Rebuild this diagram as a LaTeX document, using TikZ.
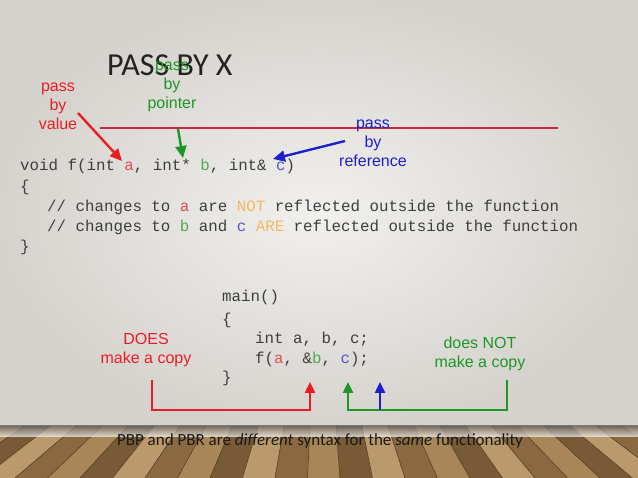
\documentclass[tikz,border=0pt]{standalone}
\usepackage{fontspec}
\setmainfont{Liberation Sans}
\setmonofont{Liberation Mono}
\newfontfamily\slidefont{Carlito}
\usetikzlibrary{arrows.meta}
\definecolor{ink}{RGB}{34,34,34}
\definecolor{code}{RGB}{62,62,62}
\definecolor{wallhi}{RGB}{241,240,238}
\definecolor{walllo}{RGB}{214,211,206}
\definecolor{woodtone0}{RGB}{168,134,88}
\definecolor{woodtone1}{RGB}{138,104,64}
\definecolor{woodtone2}{RGB}{186,154,108}
\definecolor{woodtone3}{RGB}{120,90,54}
\definecolor{plank}{RGB}{78,56,32}
\definecolor{rulecol}{RGB}{196,40,68}
\definecolor{valred}{RGB}{232,30,36}
\definecolor{ptrgreen}{RGB}{30,150,40}
\definecolor{refblue}{RGB}{30,30,205}
\definecolor{vara}{RGB}{222,80,80}
\definecolor{varb}{RGB}{80,170,80}
\definecolor{varc}{RGB}{85,85,205}
\definecolor{caps}{RGB}{244,184,96}

\begin{document}
\begin{tikzpicture}[x=1pt,y=-1pt,
    codeline/.style={anchor=base west, inner sep=0pt, text=code,
      font=\ttfamily\fontsize{15.8}{20}\selectfont},
    note/.style={align=center, inner sep=0pt,
      font=\fontsize{16}{19}\selectfont},
    pointer/.style={line width=2.4pt, -{Triangle[length=12pt,width=11pt]}},
    bracket/.style={line width=2.4pt, -{Triangle[length=11pt,width=10pt]}}]
  \useasboundingbox (0,0) rectangle (638,478);

  % wall and floor
  \shade[inner color=wallhi, outer color=walllo] (0,0) rectangle (638,426);
  \fill[woodtone0] (0,426) rectangle (638,478);
  \foreach \t [count=\i] in {-80,-54,...,720} {
    \pgfmathtruncatemacro\k{mod(\i*7,4)}
    \fill[woodtone\k] (\t,426) -- (\t+26,426) -- ({320+(\t+26-320)*1.25},478) -- ({320+(\t-320)*1.25},478) -- cycle;
    \draw[plank, line width=0.5pt] (\t,426) -- ({320+(\t-320)*1.25},478);
  }
  \shade[top color=black!60, bottom color=black!0, opacity=0.7] (0,426) rectangle (638,437);

  % title and rule
  \node[font=\slidefont\fontsize{32}{36}\selectfont, text=ink, anchor=base west, inner sep=0pt] (title) at (107,76) {PASS BY X};
  \coordinate (rulel) at (100,128);
  \coordinate (ruler) at (558,128);
  \draw[rulecol, line width=2.4pt] (rulel) -- (ruler);

  % labels over the signature
  \node[note, text=valred] (byval) at (58,106) {pass\\by\\value};
  \node[note, text=ptrgreen] (byptr) at (172,87) {pass\\by\\pointer};
  \node[note, text=refblue] (byref) at (373,143) {pass\\by\\reference};

  % function
  \node[codeline] (sig) at (20,171) {void f(int \textcolor{vara}{a}, int* \textcolor{varb}{b}, int\& \textcolor{varc}{c})};
  \node[codeline] (sigopen) at (20,192) {\{};
  \node[codeline] (cmta) at (47,212) {// changes to \textcolor{vara}{a} are \textcolor{caps}{NOT} reflected outside the function};
  \node[codeline] (cmtb) at (47,232) {// changes to \textcolor{varb}{b} and \textcolor{varc}{c} \textcolor{caps}{ARE} reflected outside the function};
  \node[codeline] (sigclose) at (20,252) {\}};

  \coordinate (valtail) at (78,113);
  \coordinate (valtip) at (122,161);
  \coordinate (ptrtail) at (178,129);
  \coordinate (ptrtip) at (183,158);
  \coordinate (reftail) at (345,141);
  \coordinate (reftip) at (273,159);
  \draw[pointer, valred] (valtail) -- (valtip);
  \draw[pointer, ptrgreen] (ptrtail) -- (ptrtip);
  \draw[pointer, refblue] (reftail) -- (reftip);

  % caller
  \node[codeline] (mainhead) at (222,302) {main()};
  \node[codeline] (mainopen) at (222,325) {\{};
  \node[codeline] (maindecl) at (255,344) {int a, b, c;};
  \node[codeline] (maincall) at (255,364) {f(\textcolor{vara}{a}, \&\textcolor{varb}{b}, \textcolor{varc}{c});};
  \node[codeline] (mainclose) at (222,383) {\}};

  \node[note, text=valred] (docopy) at (146,350) {DOES\\make a copy};
  \node[note, text=ptrgreen] (nocopy) at (480,354) {does NOT\\make a copy};

  \coordinate (redl) at (152,380);
  \coordinate (redtip) at (310,382);
  \coordinate (grnr) at (507,380);
  \coordinate (grntip) at (348,382);
  \coordinate (blubase) at (380,410);
  \coordinate (blutip) at (380,382);
  \draw[bracket, valred] (redl) -- ++(0,30) -| (redtip);
  \draw[bracket, ptrgreen] (grnr) -- ++(0,30) -| (grntip);
  \draw[bracket, refblue] (blubase) -- (blutip);

  % caption on the floor
  \node[font=\slidefont\fontsize{17}{20}\selectfont, text=black!90, inner sep=0pt] (caption) at (320,441)
    {PBP and PBR are \textit{different} syntax for the \textit{same} functionality};
\end{tikzpicture}
\end{document}
